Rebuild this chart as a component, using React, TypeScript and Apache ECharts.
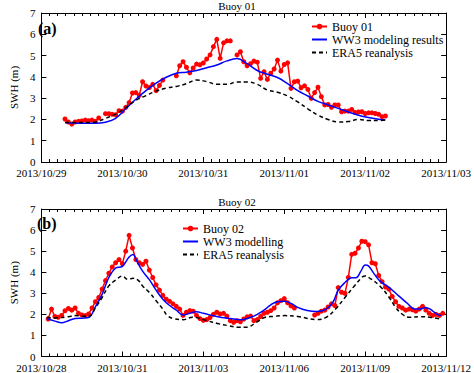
import React, { useEffect, useRef } from "react";
import * as echarts from "echarts";

const FONT = '"Liberation Serif", "Times New Roman", serif';

// ---------- Panel (a): Buoy 01 (x in hours since 2013/10/29 00:00) ----------
const topTickLabels = ["2013/10/29", "2013/10/30", "2013/10/31", "2013/11/01", "2013/11/02", "2013/11/03"];
const buoy01StartHour = 7;
const buoy01Values: (number | null)[] = [
  2.02, 1.88, 1.78, 1.88, 1.91, 1.93, 1.97, 1.94, 1.97, 1.91, 2.07, null,
  2.27, 2.27, 2.24, 2.22, 2.41, 2.39, 2.57, 2.79, 3.24, 3.26, 3.13, 3.77,
  3.57, 3.5, 3.65, 3.35, 3.6, 3.85, null, null, null, 4.05, 4.52, 4.71,
  4.45, 4.19, 4.42, 4.6, 4.57, 4.65, 4.84, 5.03, 5.42, 5.76, 4.87, 5.6,
  5.69, 5.69, null, 5.03, 5.18, 4.71, 4.52, 4.62, 4.74, 4.69, 3.93, 4.24,
  3.88, 4.17, 4.37, 4.79, 4.27, 4.58, 4.66, 3.46, 3.77, 3.8, 3.49, 3.58,
  3.41, 2.99, 3.26, 3.51, 3.07, 2.68, 2.7, 2.57, 2.68, 2.68, 2.36, 2.39,
  2.39, 2.47, 2.33, 2.35, 2.36, 2.28, 2.31, 2.31, 2.28, 2.24, 2.13, 2.16,
];
const ww3TopHours = [7, 10, 13, 16, 19, 22, 25, 28, 31, 34, 37, 40, 43, 46, 49, 52, 55, 58, 61, 64, 67, 70, 73, 76, 79, 82, 85, 88, 91, 94, 97, 100, 102];
const ww3TopValues = [1.86, 1.83, 1.82, 1.82, 1.87, 2.05, 2.5, 2.95, 3.35, 3.7, 3.98, 4.17, 4.22, 4.3, 4.43, 4.56, 4.75, 4.86, 4.62, 4.3, 4.12, 3.97, 3.68, 3.35, 3.1, 2.85, 2.68, 2.52, 2.35, 2.2, 2.09, 2.01, 1.97];
const era5TopHours = ww3TopHours;
const era5TopValues = [1.85, 1.85, 1.85, 1.88, 2.05, 2.25, 2.55, 2.9, 3.12, 3.33, 3.47, 3.55, 3.68, 3.85, 3.78, 3.65, 3.65, 3.76, 3.76, 3.65, 3.38, 3.28, 3.1, 2.82, 2.5, 2.2, 2.0, 1.88, 1.9, 2.0, 1.95, 1.95, 1.97];

// ---------- Panel (b): Buoy 02 (x in days since 2013/10/28 00:00) ----------
const bottomTickLabels = ["2013/10/28", "2013/10/31", "2013/11/03", "2013/11/06", "2013/11/09", "2013/11/12"];
const buoy02StartDay = 0.25;
const buoy02StepDay = 0.125;
const buoy02Values: (number | null)[] = [
  1.78, 2.25, 1.9, 1.86, 1.95, 2.17, 2.28, 2.2, 2.3, 2.05, 1.97, 1.94,
  2.02, 2.3, 2.6, 2.8, 3.2, 3.6, 3.95, 4.25, 4.45, 4.6, 4.4, 5.0,
  5.75, 5.15, 4.6, 4.45, 4.37, 4.52, 4.1, 3.75, 3.4, 3.15, 2.9, 2.72,
  2.62, 2.5, 2.38, 2.25, 1.95, 2.1, 2.18, 2.15, 1.95, 1.8, 1.72, 1.75,
  1.85, 2.0, 2.1, 2.02, 2.05, 1.92, 1.7, 1.62, 1.7, 1.65, 1.78, 1.88,
  1.92, 1.7, 1.75, 1.9, 2.05, 2.1, 2.18, 2.3, 2.55, 2.65, 2.75, 2.55,
  2.4, 2.3, null, null, null, null, null, 1.97, 2.05, 2.15, 2.2, 2.35,
  2.5, 2.42, 3.27, 3.05, 3.0, 3.75, 4.85, 4.9, 5.15, 5.47, 5.45, 5.3,
  4.45, 4.4, 3.85, 3.55, 3.3, 3.2, 2.85, 2.6, 2.38, 2.3, 2.2, 2.25,
  2.22, 2.15, 2.25, 2.38, 2.2, 2.05, 1.95, 2.0, 1.95, 2.05,
];
const ww3BottomDays = [0.2, 0.5, 0.75, 1.0, 1.25, 1.5, 1.75, 2.0, 2.25, 2.5, 2.75, 3.0, 3.25, 3.4, 3.5, 3.75, 4.0, 4.25, 4.5, 4.75, 5.0, 5.25, 5.5, 5.75, 6.0, 6.5, 7.0, 7.4, 7.75, 8.0, 8.25, 8.5, 8.75, 9.0, 9.25, 9.5, 9.85, 10.2, 10.55, 10.8, 11.0, 11.25, 11.5, 11.66, 11.84, 12.0, 12.13, 12.3, 12.54, 12.89, 13.24, 13.59, 13.82, 14.06, 14.23, 14.41, 14.64, 14.82];
const ww3BottomValues = [1.8, 1.68, 1.6, 1.7, 1.8, 1.82, 1.85, 2.35, 2.95, 3.75, 4.2, 4.28, 4.72, 4.84, 4.62, 4.05, 3.65, 3.15, 2.72, 2.42, 2.2, 1.97, 2.05, 2.12, 2.05, 1.9, 1.8, 1.74, 1.86, 2.0, 2.2, 2.45, 2.6, 2.62, 2.52, 2.33, 2.18, 2.13, 2.25, 2.57, 3.15, 3.51, 3.74, 3.74, 4.05, 4.34, 4.29, 3.98, 3.59, 3.27, 2.88, 2.49, 2.25, 2.25, 2.33, 2.25, 2.02, 1.94];
const era5BottomDays = [0.2, 0.5, 1.0, 1.25, 1.5, 1.75, 2.0, 2.25, 2.5, 2.75, 3.0, 3.2, 3.4, 3.6, 3.75, 4.0, 4.25, 4.5, 4.67, 4.9, 5.25, 5.6, 6.1, 6.58, 6.9, 7.27, 7.6, 8.0, 8.3, 8.6, 9.0, 9.5, 10.2, 10.55, 10.9, 11.25, 11.6, 11.9, 12.0, 12.19, 12.54, 12.89, 13.1, 13.36, 13.65, 14.06, 14.4, 14.76];
const era5BottomValues = [1.86, 1.83, 1.89, 1.94, 1.92, 1.9, 2.3, 2.8, 3.35, 3.62, 3.82, 3.66, 3.71, 3.6, 3.35, 3.04, 2.65, 2.25, 1.94, 1.8, 1.75, 1.86, 1.71, 1.55, 1.47, 1.39, 1.39, 1.65, 1.86, 1.9, 1.94, 1.9, 1.75, 1.86, 2.25, 2.8, 3.35, 3.78, 3.82, 3.7, 3.35, 2.8, 2.38, 2.02, 1.86, 1.89, 1.86, 1.78];

const RED = "#ff0000";
const BLUE = "#0000ff";
const BLACK = "#000000";

function xAxisDef(gridIndex: number, position: "bottom" | "top", max: number, interval: number, labels: string[] | null, margin: number, lineHeight: number) {
  return {
    type: "value",
    gridIndex,
    position,
    min: 0,
    max,
    interval,
    axisLine: { show: true, onZero: false, lineStyle: { color: BLACK, width: 1 } },
    axisTick: { show: true, inside: true, length: 5, lineStyle: { color: BLACK } },
    minorTick: { show: true, splitNumber: 10, length: 3, lineStyle: { color: BLACK } },
    splitLine: { show: false },
    axisLabel: labels
      ? {
          show: true,
          margin,
          fontFamily: FONT,
          fontSize: 11,
          lineHeight,
          color: BLACK,
          formatter: (v: number) => labels[Math.round(v / interval)] ?? "",
        }
      : { show: false },
  };
}

function yAxisDef(gridIndex: number, position: "left" | "right", withLabel: boolean) {
  return {
    type: "value",
    gridIndex,
    position,
    min: 0,
    max: 7,
    interval: 1,
    name: withLabel ? "SWH (m)" : "",
    nameLocation: "middle",
    nameGap: 11,
    nameTextStyle: { fontFamily: FONT, fontSize: 11, color: BLACK },
    axisLine: { show: true, onZero: false, lineStyle: { color: BLACK, width: 1 } },
    axisTick: { show: true, inside: true, length: 5, lineStyle: { color: BLACK } },
    splitLine: { show: false },
    axisLabel: withLabel
      ? { show: true, margin: 6, fontFamily: FONT, fontSize: 11, lineHeight: 9, color: BLACK }
      : { show: false },
  };
}

export default function App() {
  const ref = useRef<HTMLDivElement>(null);
  useEffect(() => {
    if (!ref.current) return;
    const chart = echarts.init(ref.current, null, { renderer: "svg" });

    const buoy01Data = buoy01Values.map((v, i) => [buoy01StartHour + i, v]);
    const ww3TopData = ww3TopHours.map((h, i) => [h, ww3TopValues[i]]);
    const era5TopData = era5TopHours.map((h, i) => [h, era5TopValues[i]]);
    const buoy02Data = buoy02Values.map((v, i) => [buoy02StartDay + i * buoy02StepDay, v]);
    const ww3BottomData = ww3BottomDays.map((d, i) => [d, ww3BottomValues[i]]);
    const era5BottomData = era5BottomDays.map((d, i) => [d, era5BottomValues[i]]);

    const redSeries = (name: string, idx: number, data: any[]) => ({
      type: "line",
      name,
      xAxisIndex: idx * 2,
      yAxisIndex: idx * 2,
      data,
      symbol: "circle",
      symbolSize: 5,
      showSymbol: true,
      connectNulls: false,
      itemStyle: { color: RED },
      lineStyle: { color: RED, width: 1.5 },
      z: 2,
    });
    const blueSeries = (name: string, idx: number, data: any[]) => ({
      type: "line",
      name,
      xAxisIndex: idx * 2,
      yAxisIndex: idx * 2,
      data,
      smooth: 0.4,
      symbol: "none",
      itemStyle: { color: BLUE },
      lineStyle: { color: BLUE, width: 1.5 },
      z: 3,
    });
    const blackSeries = (name: string, idx: number, data: any[]) => ({
      type: "line",
      name,
      xAxisIndex: idx * 2,
      yAxisIndex: idx * 2,
      data,
      smooth: 0.4,
      symbol: "none",
      itemStyle: { color: BLACK },
      lineStyle: { color: BLACK, width: 1.5, type: [4, 3] },
      z: 4,
    });

    const legendText = { fontFamily: FONT, fontSize: 12, color: BLACK, lineHeight: 13 };
    const noMarker = { opacity: 0 };

    chart.setOption({
      animation: false,
      backgroundColor: "#ffffff",
      title: [
        { text: "Buoy 01", left: "center", top: 0, padding: 0, textStyle: { fontFamily: FONT, fontSize: 11, fontWeight: "normal", color: BLACK } },
        { text: "Buoy 02", left: "center", top: 196, padding: 0, textStyle: { fontFamily: FONT, fontSize: 11, fontWeight: "normal", color: BLACK } },
      ],
      grid: [
        { left: 24, top: 13, width: 428, height: 149 },
        { left: 24, top: 209, width: 428, height: 149 },
      ],
      xAxis: [
        xAxisDef(0, "bottom", 120, 24, topTickLabels, 5, 11),
        xAxisDef(0, "top", 120, 24, null, 0, 11),
        xAxisDef(1, "bottom", 15, 3, bottomTickLabels, 6, 10),
        xAxisDef(1, "top", 15, 3, null, 0, 10),
      ],
      yAxis: [
        yAxisDef(0, "left", true),
        yAxisDef(0, "right", false),
        yAxisDef(1, "left", true),
        yAxisDef(1, "right", false),
      ],
      legend: [
        {
          data: [
            { name: "Buoy 01" },
            { name: "WW3 modeling results", itemStyle: noMarker },
            { name: "ERA5 reanalysis", itemStyle: noMarker },
          ],
          orient: "vertical",
          left: 311,
          top: 20,
          padding: 0,
          itemWidth: 15,
          itemHeight: 7,
          itemGap: 0,
          textStyle: legendText,
          selectedMode: false,
        },
        {
          data: [
            { name: "Buoy 02" },
            { name: "WW3 modelling", itemStyle: noMarker },
            { name: "ERA5 reanalysis", itemStyle: noMarker },
          ],
          orient: "vertical",
          left: 182,
          top: 222,
          padding: 0,
          itemWidth: 15,
          itemHeight: 7,
          itemGap: 0,
          textStyle: legendText,
          selectedMode: false,
        },
      ],
      graphic: [
        { type: "text", left: 38, top: 20, style: { text: "(a)", font: `bold 16px ${FONT}`, fill: BLACK } },
        { type: "text", left: 37, top: 215, style: { text: "(b)", font: `bold 16px ${FONT}`, fill: BLACK } },
      ],
      series: [
        redSeries("Buoy 01", 0, buoy01Data),
        blueSeries("WW3 modeling results", 0, ww3TopData),
        blackSeries("ERA5 reanalysis", 0, era5TopData),
        redSeries("Buoy 02", 1, buoy02Data),
        blueSeries("WW3 modelling", 1, ww3BottomData),
        blackSeries("ERA5 reanalysis", 1, era5BottomData),
      ],
    });
    return () => chart.dispose();
  }, []);

  return (
    <div
      ref={ref}
      style={{ position: "fixed", left: 0, top: 0, width: 474, height: 373, background: "#fff" }}
    />
  );
}
